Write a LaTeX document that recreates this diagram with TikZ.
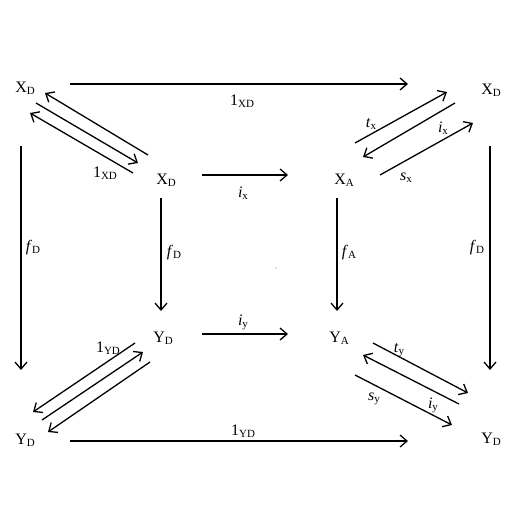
\documentclass[tikz,border=0pt]{standalone}
\usepackage{fontspec}
\setmainfont{Liberation Serif}
\usetikzlibrary{arrows.meta}
\newcommand\lsub[1]{\raisebox{-2pt}{\fontsize{11}{11}\selectfont #1}}
\begin{document}
\begin{tikzpicture}[x=1pt,y=-1pt,
  lbl/.style={font=\fontsize{16}{16}\selectfont, inner sep=0pt, anchor=base},
  arr/.style={line width=1.3pt, -{Straight Barb[length=7pt,width=12pt,line width=1.3pt]}}]
\useasboundingbox (0,0) rectangle (514,514);
% objects
\node[lbl] (xdtl) at (25,92)  {X\lsub{D}};
\node[lbl] (xdtr) at (491,94) {X\lsub{D}};
\node[lbl] (ydbl) at (25,444) {Y\lsub{D}};
\node[lbl] (ydbr) at (491,443) {Y\lsub{D}};
\node[lbl] (xd) at (166,184) {X\lsub{D}};
\node[lbl] (xa) at (344,184) {X\lsub{A}};
\node[lbl] (yd) at (163,342) {Y\lsub{D}};
\node[lbl] (ya) at (339,342) {Y\lsub{A}};
% arrow end points
\coordinate (t1) at (70,84);   \coordinate (t2) at (408,84);
\coordinate (b1) at (70,441);  \coordinate (b2) at (408,441);
\coordinate (l1) at (21,146);  \coordinate (l2) at (21,370);
\coordinate (r1) at (490,146); \coordinate (r2) at (490,370);
\coordinate (il1) at (161,198); \coordinate (il2) at (161,311);
\coordinate (ir1) at (337,198); \coordinate (ir2) at (337,311);
\coordinate (ix1) at (202,175); \coordinate (ix2) at (288,175);
\coordinate (iy1) at (202,334); \coordinate (iy2) at (288,334);
\coordinate (tla1) at (148,155); \coordinate (tla2) at (45,93);
\coordinate (tlb1) at (36,103);  \coordinate (tlb2) at (138,163);
\coordinate (tlc1) at (133,173); \coordinate (tlc2) at (30,113);
\coordinate (tra1) at (355,143); \coordinate (tra2) at (447,92);
\coordinate (trb1) at (455,103); \coordinate (trb2) at (363,157);
\coordinate (trc1) at (380,175); \coordinate (trc2) at (473,123);
\coordinate (bla1) at (135,343); \coordinate (bla2) at (33,412);
\coordinate (blb1) at (42,420);  \coordinate (blb2) at (143,352);
\coordinate (blc1) at (150,362); \coordinate (blc2) at (48,432);
\coordinate (bra1) at (373,343); \coordinate (bra2) at (468,393);
\coordinate (brb1) at (459,404); \coordinate (brb2) at (363,355);
\coordinate (brc1) at (355,375); \coordinate (brc2) at (452,425);
% arrows
\draw[arr] (t1) -- (t2);
\draw[arr] (b1) -- (b2);
\draw[arr] (l1) -- (l2);
\draw[arr] (r1) -- (r2);
\draw[arr] (il1) -- (il2);
\draw[arr] (ir1) -- (ir2);
\draw[arr] (ix1) -- (ix2);
\draw[arr] (iy1) -- (iy2);
\draw[arr] (tla1) -- (tla2);
\draw[arr] (tlb1) -- (tlb2);
\draw[arr] (tlc1) -- (tlc2);
\draw[arr] (tra1) -- (tra2);
\draw[arr] (trb1) -- (trb2);
\draw[arr] (trc1) -- (trc2);
\draw[arr] (bla1) -- (bla2);
\draw[arr] (blb1) -- (blb2);
\draw[arr] (blc1) -- (blc2);
\draw[arr] (bra1) -- (bra2);
\draw[arr] (brb1) -- (brb2);
\draw[arr] (brc1) -- (brc2);
% labels
\node[lbl] (lt) at (242,105) {1\lsub{XD}};
\node[lbl] (lb) at (243,435) {1\lsub{YD}};
\node[lbl] (ll) at (33,251) {\textit{f}\lsub{D}};
\node[lbl] (lr) at (477,251) {\textit{f}\lsub{D}};
\node[lbl] (lil) at (174,256) {\textit{f}\lsub{D}};
\node[lbl] (lir) at (349,256) {\textit{f}\lsub{A}};
\node[lbl] (lix) at (243,197) {\textit{i}\lsub{x}};
\node[lbl] (liy) at (243,325) {\textit{i}\lsub{y}};
\node[lbl] (ltl) at (105,177) {1\lsub{XD}};
\node[lbl] (ltx) at (371,127) {\textit{t}\lsub{x}};
\node[lbl] (lixr) at (443,132) {\textit{i}\lsub{x}};
\node[lbl] (lsx) at (406,180) {\textit{s}\lsub{x}};
\node[lbl] (lbl1) at (108,352) {1\lsub{YD}};
\node[lbl] (lty) at (399,352) {\textit{t}\lsub{y}};
\node[lbl] (lsy) at (374,400) {\textit{s}\lsub{y}};
\node[lbl] (liyr) at (433,408) {\textit{i}\lsub{y}};
\fill[gray] (276,268) circle (0.6);
\end{tikzpicture}
\end{document}
